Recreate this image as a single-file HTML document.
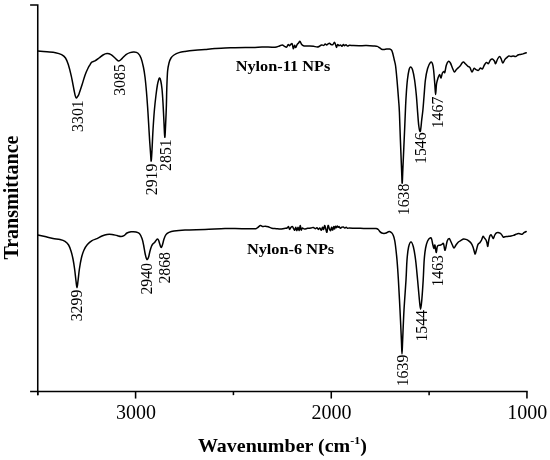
<!DOCTYPE html>
<html><head><meta charset="utf-8"><title>FTIR</title>
<style>
html,body{margin:0;padding:0;background:#fff;}
body{width:550px;height:460px;overflow:hidden;}
svg{display:block;}
text{font-family:"Liberation Serif","Times New Roman",serif;fill:#000;}
.tk{font-size:20px;}
.pk{font-size:15.8px;}
.ttl{font-size:20px;font-weight:bold;}
.nm{font-size:16.3px;font-weight:bold;}
.ax line,.ax path{stroke:#000;stroke-width:1.55;fill:none;}
.cv{stroke:#000;stroke-width:1.5;fill:none;stroke-linejoin:round;stroke-linecap:round;}
</style></head><body>
<svg width="550" height="460" viewBox="0 0 550 460">
<rect width="550" height="460" fill="#fff"/>
<g class="ax">
<path d="M30.1 4.9H37.75V395.2"/>
<path d="M30.1 391.55H527.7"/>
<line x1="37.75" y1="391.55" x2="37.75" y2="395.15"/><line x1="135.59" y1="391.55" x2="135.59" y2="398.55"/><line x1="233.43" y1="391.55" x2="233.43" y2="395.15"/><line x1="331.27" y1="391.55" x2="331.27" y2="398.55"/><line x1="429.11" y1="391.55" x2="429.11" y2="395.15"/><line x1="526.95" y1="391.55" x2="526.95" y2="398.55"/>
</g>
<path class="cv" d="M37.75 51.00C39.29 51.13 44.04 51.52 47.00 51.80C49.96 52.08 53.07 52.23 55.50 52.70C57.93 53.17 59.93 53.72 61.60 54.60C63.27 55.48 64.38 56.33 65.50 58.00C66.62 59.67 67.33 61.57 68.30 64.60C69.27 67.63 70.35 71.97 71.30 76.20C72.25 80.43 73.35 86.77 74.00 90.00C74.65 93.23 74.82 94.27 75.20 95.60C75.58 96.93 75.92 97.83 76.30 98.00C76.68 98.17 77.05 97.28 77.50 96.60C77.95 95.92 78.24 95.87 79.00 93.90C79.76 91.93 81.03 87.97 82.05 84.80C83.07 81.63 84.09 77.70 85.10 74.90C86.11 72.10 87.28 69.68 88.10 68.00C88.92 66.32 89.38 65.77 90.00 64.80C90.62 63.83 90.97 62.87 91.80 62.20C92.63 61.53 93.80 61.50 95.00 60.80C96.20 60.10 97.67 58.97 99.00 58.00C100.33 57.03 101.67 55.73 103.00 55.00C104.33 54.27 105.67 53.67 107.00 53.60C108.33 53.53 109.67 53.87 111.00 54.60C112.33 55.33 113.73 56.93 115.00 58.00C116.27 59.07 117.43 60.90 118.60 61.00C119.77 61.10 120.77 59.67 122.00 58.60C123.23 57.53 124.67 55.60 126.00 54.60C127.33 53.60 128.67 53.03 130.00 52.60C131.33 52.17 132.67 51.90 134.00 52.00C135.33 52.10 136.83 52.20 138.00 53.20C139.17 54.20 140.10 55.70 141.00 58.00C141.90 60.30 142.73 63.83 143.40 67.00C144.07 70.17 144.50 73.00 145.00 77.00C145.50 81.00 145.97 86.00 146.40 91.00C146.83 96.00 147.23 101.67 147.60 107.00C147.97 112.33 148.27 117.50 148.60 123.00C148.93 128.50 149.27 134.83 149.60 140.00C149.93 145.17 150.33 150.50 150.60 154.00C150.87 157.50 150.97 161.67 151.20 161.00C151.43 160.33 151.70 155.17 152.00 150.00C152.30 144.83 152.60 136.67 153.00 130.00C153.40 123.33 153.90 115.83 154.40 110.00C154.90 104.17 155.50 99.17 156.00 95.00C156.50 90.83 156.97 87.50 157.40 85.00C157.83 82.50 158.23 81.17 158.60 80.00C158.97 78.83 159.23 77.83 159.60 78.00C159.97 78.17 160.40 79.17 160.80 81.00C161.20 82.83 161.63 85.33 162.00 89.00C162.37 92.67 162.67 97.33 163.00 103.00C163.33 108.67 163.70 117.28 164.00 123.00C164.30 128.72 164.53 136.97 164.80 137.30C165.07 137.63 165.33 130.38 165.60 125.00C165.87 119.62 166.20 111.17 166.40 105.00C166.60 98.83 166.60 93.67 166.80 88.00C167.00 82.33 167.23 75.17 167.60 71.00C167.97 66.83 168.43 65.17 169.00 63.00C169.57 60.83 170.17 59.33 171.00 58.00C171.83 56.67 172.67 55.90 174.00 55.00C175.33 54.10 177.17 53.20 179.00 52.60C180.83 52.00 182.33 51.80 185.00 51.40C187.67 51.00 191.67 50.53 195.00 50.20C198.33 49.87 201.67 49.67 205.00 49.40C208.33 49.13 211.67 48.83 215.00 48.60C218.33 48.37 221.67 48.13 225.00 48.00C228.33 47.87 230.00 47.90 235.00 47.80C240.00 47.70 249.50 47.55 255.00 47.40C260.50 47.25 264.67 46.92 268.00 46.90C271.33 46.88 273.10 47.45 275.00 47.30C276.90 47.15 278.18 46.40 279.40 46.00C280.62 45.60 281.45 44.85 282.30 44.90C283.15 44.95 283.78 45.93 284.50 46.30C285.22 46.67 286.00 47.38 286.60 47.10C287.20 46.82 287.62 44.83 288.10 44.60C288.58 44.37 289.07 45.73 289.50 45.70C289.93 45.67 290.25 44.70 290.70 44.40C291.15 44.10 291.77 43.17 292.20 43.90C292.63 44.63 292.92 48.57 293.30 48.80C293.68 49.03 294.10 45.50 294.50 45.30C294.90 45.10 295.27 47.72 295.70 47.60C296.13 47.48 296.62 45.38 297.10 44.60C297.58 43.82 298.12 43.43 298.60 42.90C299.08 42.37 299.52 41.17 300.00 41.40C300.48 41.63 300.93 43.58 301.50 44.30C302.07 45.02 302.60 45.42 303.40 45.70C304.20 45.98 305.22 45.95 306.30 46.00C307.38 46.05 308.70 45.95 309.90 46.00C311.10 46.05 312.28 46.13 313.50 46.30C314.72 46.47 316.22 47.00 317.20 47.00C318.18 47.00 318.68 46.65 319.40 46.30C320.12 45.95 320.78 45.05 321.50 44.90C322.22 44.75 323.08 45.57 323.70 45.40C324.32 45.23 324.72 43.98 325.20 43.90C325.68 43.82 326.12 44.90 326.60 44.90C327.08 44.90 327.62 44.17 328.10 43.90C328.58 43.63 329.02 43.20 329.50 43.30C329.98 43.40 330.43 44.28 331.00 44.50C331.57 44.72 332.33 44.98 332.90 44.60C333.47 44.22 333.97 42.22 334.40 42.20C334.83 42.18 335.15 43.63 335.50 44.50C335.85 45.37 336.15 47.40 336.50 47.40C336.85 47.40 337.18 44.78 337.60 44.50C338.02 44.22 338.52 45.63 339.00 45.70C339.48 45.77 340.02 44.80 340.50 44.90C340.98 45.00 341.42 46.37 341.90 46.30C342.38 46.23 342.97 44.60 343.40 44.50C343.83 44.40 344.07 45.65 344.50 45.70C344.93 45.75 345.50 44.75 346.00 44.80C346.50 44.85 346.90 45.92 347.50 46.00C348.10 46.08 348.63 45.37 349.60 45.30C350.57 45.23 351.72 45.53 353.30 45.60C354.88 45.67 356.92 45.70 359.10 45.70C361.28 45.70 363.98 45.55 366.40 45.60C368.82 45.65 371.78 45.87 373.60 46.00C375.42 46.13 376.32 46.12 377.30 46.40C378.28 46.68 378.78 47.23 379.50 47.70C380.22 48.17 380.88 48.88 381.60 49.20C382.32 49.52 382.95 49.63 383.80 49.60C384.65 49.57 385.73 49.10 386.70 49.00C387.67 48.90 388.82 48.82 389.60 49.00C390.38 49.18 390.92 49.52 391.40 50.10C391.88 50.68 392.13 51.37 392.50 52.50C392.87 53.63 393.30 55.65 393.60 56.90C393.90 58.15 393.97 58.48 394.30 60.00C394.63 61.52 395.15 62.67 395.60 66.00C396.05 69.33 396.50 74.33 397.00 80.00C397.50 85.67 398.20 94.67 398.60 100.00C399.00 105.33 399.10 105.33 399.40 112.00C399.70 118.67 400.03 130.33 400.40 140.00C400.77 149.67 401.30 162.80 401.60 170.00C401.90 177.20 401.98 183.53 402.20 183.20C402.42 182.87 402.50 176.87 402.90 168.00C403.30 159.13 404.15 140.33 404.60 130.00C405.05 119.67 405.30 112.33 405.60 106.00C405.90 99.67 406.10 96.33 406.40 92.00C406.70 87.67 406.97 83.67 407.40 80.00C407.83 76.33 408.47 72.17 409.00 70.00C409.53 67.83 410.00 67.00 410.60 67.00C411.20 67.00 411.93 67.83 412.60 70.00C413.27 72.17 413.97 75.67 414.60 80.00C415.23 84.33 415.90 90.67 416.40 96.00C416.90 101.33 417.20 107.00 417.60 112.00C418.00 117.00 418.38 122.73 418.80 126.00C419.22 129.27 419.73 131.43 420.10 131.60C420.47 131.77 420.73 128.93 421.00 127.00C421.27 125.07 421.38 122.83 421.70 120.00C422.02 117.17 422.51 114.00 422.90 110.00C423.29 106.00 423.63 101.00 424.05 96.00C424.47 91.00 424.81 84.58 425.40 80.00C425.99 75.42 426.77 71.43 427.60 68.50C428.43 65.57 429.60 63.23 430.40 62.40C431.20 61.57 431.87 62.23 432.40 63.50C432.93 64.77 433.20 66.58 433.60 70.00C434.00 73.42 434.47 79.90 434.80 84.00C435.13 88.10 435.32 94.60 435.60 94.60C435.88 94.60 436.10 86.77 436.50 84.00C436.90 81.23 437.48 79.60 438.00 78.00C438.52 76.40 439.10 74.40 439.60 74.40C440.10 74.40 440.53 78.23 441.00 78.00C441.47 77.77 441.90 74.07 442.40 73.00C442.90 71.93 443.60 71.70 444.00 71.60C444.40 71.50 444.40 73.50 444.80 72.40C445.20 71.30 445.80 66.83 446.40 65.00C447.00 63.17 447.73 61.73 448.40 61.40C449.07 61.07 449.73 61.90 450.40 63.00C451.07 64.10 451.73 66.50 452.40 68.00C453.07 69.50 453.73 71.73 454.40 72.00C455.07 72.27 455.73 70.33 456.40 69.60C457.07 68.87 457.73 68.27 458.40 67.60C459.07 66.93 459.80 66.37 460.40 65.60C461.00 64.83 461.47 63.60 462.00 63.00C462.53 62.40 463.00 61.83 463.60 62.00C464.20 62.17 464.87 63.27 465.60 64.00C466.33 64.73 467.27 65.80 468.00 66.40C468.73 67.00 469.33 66.67 470.00 67.60C470.67 68.53 471.33 71.87 472.00 72.00C472.67 72.13 473.33 68.80 474.00 68.40C474.67 68.00 475.27 69.27 476.00 69.60C476.73 69.93 477.67 70.67 478.40 70.40C479.13 70.13 479.73 68.23 480.40 68.00C481.07 67.77 481.73 69.50 482.40 69.00C483.07 68.50 483.73 66.10 484.40 65.00C485.07 63.90 485.73 62.63 486.40 62.40C487.07 62.17 487.73 64.00 488.40 63.60C489.07 63.20 489.73 60.77 490.40 60.00C491.07 59.23 491.73 58.83 492.40 59.00C493.07 59.17 493.87 60.23 494.40 61.00C494.93 61.77 495.07 63.93 495.60 63.60C496.13 63.27 496.93 60.17 497.60 59.00C498.27 57.83 499.00 56.60 499.60 56.60C500.20 56.60 500.67 57.93 501.20 59.00C501.73 60.07 502.20 62.90 502.80 63.00C503.40 63.10 504.13 60.50 504.80 59.60C505.47 58.70 506.13 58.20 506.80 57.60C507.47 57.00 508.13 56.20 508.80 56.00C509.47 55.80 510.07 56.40 510.80 56.40C511.53 56.40 512.40 55.97 513.20 56.00C514.00 56.03 514.80 56.77 515.60 56.60C516.40 56.43 517.20 55.37 518.00 55.00C518.80 54.63 519.57 54.58 520.40 54.40C521.23 54.22 522.03 54.17 523.00 53.90C523.97 53.63 525.67 52.98 526.20 52.80"/>
<path class="cv" d="M37.75 235.00C38.96 235.27 42.46 236.03 45.00 236.60C47.54 237.17 50.50 237.90 53.00 238.40C55.50 238.90 58.00 239.10 60.00 239.60C62.00 240.10 63.57 240.50 65.00 241.40C66.43 242.30 67.60 243.40 68.60 245.00C69.60 246.60 70.27 248.67 71.00 251.00C71.73 253.33 72.40 256.00 73.00 259.00C73.60 262.00 74.10 265.33 74.60 269.00C75.10 272.67 75.60 277.90 76.00 281.00C76.40 284.10 76.67 287.60 77.00 287.60C77.33 287.60 77.60 284.10 78.00 281.00C78.40 277.90 78.83 272.83 79.40 269.00C79.97 265.17 80.63 261.17 81.40 258.00C82.17 254.83 83.00 252.23 84.00 250.00C85.00 247.77 86.07 246.17 87.40 244.60C88.73 243.03 90.40 241.60 92.00 240.60C93.60 239.60 95.33 239.37 97.00 238.60C98.67 237.83 100.33 236.70 102.00 236.00C103.67 235.30 105.33 234.67 107.00 234.40C108.67 234.13 110.33 234.20 112.00 234.40C113.67 234.60 115.50 235.27 117.00 235.60C118.50 235.93 119.83 236.40 121.00 236.40C122.17 236.40 123.00 236.17 124.00 235.60C125.00 235.03 125.83 233.63 127.00 233.00C128.17 232.37 129.50 231.98 131.00 231.80C132.50 231.62 134.60 231.60 136.00 231.90C137.40 232.20 138.40 232.48 139.40 233.60C140.40 234.72 141.30 236.70 142.00 238.60C142.70 240.50 143.10 242.60 143.60 245.00C144.10 247.40 144.53 250.73 145.00 253.00C145.47 255.27 146.00 257.53 146.40 258.60C146.80 259.67 147.03 259.67 147.40 259.40C147.77 259.13 148.17 258.40 148.60 257.00C149.03 255.60 149.50 252.83 150.00 251.00C150.50 249.17 151.10 247.20 151.60 246.00C152.10 244.80 152.50 244.40 153.00 243.80C153.50 243.20 154.07 243.00 154.60 242.40C155.13 241.80 155.72 240.75 156.20 240.20C156.68 239.65 157.10 239.10 157.50 239.10C157.90 239.10 158.23 239.42 158.60 240.20C158.97 240.98 159.30 242.60 159.70 243.80C160.10 245.00 160.55 247.20 161.00 247.40C161.45 247.60 161.90 246.40 162.40 245.00C162.90 243.60 163.40 240.73 164.00 239.00C164.60 237.27 165.17 235.70 166.00 234.60C166.83 233.50 167.67 233.00 169.00 232.40C170.33 231.80 171.33 231.40 174.00 231.00C176.67 230.60 179.83 230.27 185.00 230.00C190.17 229.73 198.33 229.63 205.00 229.40C211.67 229.17 220.00 228.73 225.00 228.60C230.00 228.47 230.83 228.58 235.00 228.60C239.17 228.62 246.53 228.68 250.00 228.70C253.47 228.72 254.47 228.93 255.80 228.70C257.13 228.47 257.22 227.82 258.00 227.30C258.78 226.78 259.70 225.73 260.50 225.60C261.30 225.47 262.00 226.40 262.80 226.50C263.60 226.60 264.40 226.15 265.30 226.20C266.20 226.25 267.12 226.47 268.20 226.80C269.28 227.13 270.47 227.88 271.80 228.20C273.13 228.52 274.75 228.55 276.20 228.70C277.65 228.85 279.17 229.15 280.50 229.10C281.83 229.05 283.10 228.58 284.20 228.40C285.30 228.22 286.38 228.30 287.10 228.00C287.82 227.70 288.08 226.37 288.50 226.60C288.92 226.83 289.18 229.28 289.60 229.40C290.02 229.52 290.52 227.77 291.00 227.30C291.48 226.83 292.07 226.37 292.50 226.60C292.93 226.83 293.22 228.12 293.60 228.70C293.98 229.28 294.43 230.33 294.80 230.10C295.17 229.87 295.47 227.18 295.80 227.30C296.13 227.42 296.43 230.80 296.80 230.80C297.17 230.80 297.60 227.35 298.00 227.30C298.40 227.25 298.83 230.80 299.20 230.50C299.57 230.20 299.87 225.57 300.20 225.50C300.53 225.43 300.83 229.68 301.20 230.10C301.57 230.52 301.85 228.17 302.40 228.00C302.95 227.83 303.65 229.05 304.50 229.10C305.35 229.15 306.40 228.48 307.50 228.30C308.60 228.12 310.13 228.15 311.10 228.00C312.07 227.85 312.62 227.28 313.30 227.40C313.98 227.52 314.60 228.65 315.20 228.70C315.80 228.75 316.37 227.58 316.90 227.70C317.43 227.82 317.92 229.35 318.40 229.40C318.88 229.45 319.32 227.85 319.80 228.00C320.28 228.15 320.85 230.42 321.30 230.30C321.75 230.18 322.12 227.43 322.50 227.30C322.88 227.17 323.19 229.80 323.55 229.50C323.91 229.20 324.29 225.63 324.65 225.50C325.01 225.37 325.32 227.57 325.70 228.70C326.07 229.83 326.51 232.83 326.90 232.30C327.29 231.77 327.68 226.18 328.05 225.50C328.43 224.82 328.74 227.32 329.15 228.20C329.56 229.08 330.09 230.95 330.50 230.80C330.91 230.65 331.23 227.42 331.60 227.30C331.97 227.18 332.35 230.22 332.70 230.10C333.05 229.98 333.40 226.77 333.70 226.60C334.00 226.43 334.22 229.13 334.50 229.10C334.78 229.07 335.10 226.63 335.40 226.40C335.70 226.17 336.00 227.78 336.30 227.70C336.60 227.62 336.88 225.97 337.20 225.90C337.52 225.83 337.87 227.18 338.20 227.30C338.53 227.42 338.83 226.43 339.20 226.60C339.57 226.77 339.97 228.18 340.40 228.30C340.83 228.42 341.32 227.53 341.80 227.30C342.28 227.07 342.82 226.78 343.30 226.90C343.78 227.02 344.22 227.93 344.70 228.00C345.18 228.07 345.72 227.25 346.20 227.30C346.68 227.35 347.12 228.18 347.60 228.30C348.08 228.42 347.63 228.00 349.10 228.00C350.57 228.00 353.98 228.23 356.40 228.30C358.82 228.37 361.18 228.35 363.60 228.40C366.02 228.45 368.83 228.58 370.90 228.60C372.97 228.62 374.78 228.35 376.00 228.50C377.22 228.65 377.55 228.98 378.20 229.50C378.85 230.02 379.30 231.02 379.90 231.60C380.50 232.18 381.12 232.70 381.80 233.00C382.48 233.30 383.27 233.40 384.00 233.40C384.73 233.40 385.47 233.27 386.20 233.00C386.93 232.73 387.75 232.02 388.40 231.80C389.05 231.58 389.50 231.48 390.10 231.70C390.70 231.92 391.43 232.38 392.00 233.10C392.57 233.82 393.08 234.92 393.50 236.00C393.92 237.08 394.18 238.10 394.50 239.60C394.82 241.10 394.98 241.60 395.40 245.00C395.82 248.40 396.50 254.17 397.00 260.00C397.50 265.83 397.90 271.67 398.40 280.00C398.90 288.33 399.50 300.00 400.00 310.00C400.50 320.00 401.07 332.67 401.40 340.00C401.73 347.33 401.79 354.00 402.00 354.00C402.21 354.00 402.32 347.33 402.65 340.00C402.98 332.67 403.44 320.00 404.00 310.00C404.56 300.00 405.50 288.33 406.00 280.00C406.50 271.67 406.57 265.50 407.00 260.00C407.43 254.50 407.93 250.00 408.60 247.00C409.27 244.00 410.20 242.00 411.00 242.00C411.80 242.00 412.63 244.00 413.40 247.00C414.17 250.00 414.90 254.50 415.60 260.00C416.30 265.50 416.97 273.33 417.60 280.00C418.23 286.67 418.90 295.13 419.40 300.00C419.90 304.87 420.20 309.20 420.60 309.20C421.00 309.20 421.37 304.87 421.80 300.00C422.23 295.13 422.80 286.67 423.20 280.00C423.60 273.33 423.80 265.33 424.20 260.00C424.60 254.67 425.03 251.17 425.60 248.00C426.17 244.83 426.83 242.70 427.60 241.00C428.37 239.30 429.53 238.13 430.20 237.80C430.87 237.47 431.18 237.97 431.60 239.00C432.02 240.03 432.33 242.43 432.70 244.00C433.07 245.57 433.43 248.23 433.80 248.40C434.17 248.57 434.50 244.33 434.90 245.00C435.30 245.67 435.78 252.18 436.20 252.40C436.62 252.62 436.83 247.50 437.40 246.30C437.97 245.10 438.90 245.48 439.60 245.20C440.30 244.92 440.95 244.87 441.60 244.60C442.25 244.33 442.92 242.65 443.50 243.60C444.08 244.55 444.48 250.73 445.10 250.30C445.72 249.87 446.52 242.95 447.20 241.00C447.88 239.05 448.63 238.60 449.20 238.60C449.77 238.60 450.07 239.93 450.60 241.00C451.13 242.07 451.83 243.83 452.40 245.00C452.97 246.17 453.40 248.00 454.00 248.00C454.60 248.00 455.27 246.00 456.00 245.00C456.73 244.00 457.57 242.77 458.40 242.00C459.23 241.23 460.13 240.90 461.00 240.40C461.87 239.90 462.77 239.17 463.60 239.00C464.43 238.83 465.20 239.13 466.00 239.40C466.80 239.67 467.57 240.00 468.40 240.60C469.23 241.20 470.23 241.93 471.00 243.00C471.77 244.07 472.43 245.50 473.00 247.00C473.57 248.50 474.03 250.83 474.40 252.00C474.77 253.17 474.87 254.33 475.20 254.00C475.53 253.67 475.93 251.60 476.40 250.00C476.87 248.40 477.40 245.67 478.00 244.40C478.60 243.13 479.40 243.13 480.00 242.40C480.60 241.67 481.10 241.00 481.60 240.00C482.10 239.00 482.53 236.73 483.00 236.40C483.47 236.07 483.90 237.40 484.40 238.00C484.90 238.60 485.57 239.17 486.00 240.00C486.43 240.83 486.70 241.93 487.00 243.00C487.30 244.07 487.50 246.90 487.80 246.40C488.10 245.90 488.43 241.80 488.80 240.00C489.17 238.20 489.60 236.43 490.00 235.60C490.40 234.77 490.80 234.77 491.20 235.00C491.60 235.23 492.03 236.43 492.40 237.00C492.77 237.57 493.00 238.73 493.40 238.40C493.80 238.07 494.30 235.92 494.80 235.00C495.30 234.08 495.87 233.33 496.40 232.90C496.93 232.47 497.40 232.35 498.00 232.40C498.60 232.45 499.40 232.83 500.00 233.20C500.60 233.57 501.07 233.95 501.60 234.60C502.13 235.25 502.63 236.75 503.20 237.10C503.77 237.45 504.20 236.82 505.00 236.70C505.80 236.58 507.00 236.52 508.00 236.40C509.00 236.28 510.07 236.17 511.00 236.00C511.93 235.83 512.77 235.68 513.60 235.40C514.43 235.12 515.20 234.62 516.00 234.30C516.80 233.98 517.67 233.57 518.40 233.50C519.13 233.43 519.80 233.77 520.40 233.90C521.00 234.03 521.40 234.50 522.00 234.30C522.60 234.10 523.30 233.17 524.00 232.70C524.70 232.23 525.83 231.70 526.20 231.50"/>
<text x="135.89" y="419.4" text-anchor="middle" class="tk">3000</text><text x="331.57" y="419.4" text-anchor="middle" class="tk">2000</text><text x="527.25" y="419.4" text-anchor="middle" class="tk">1000</text>
<text class="pk" text-anchor="end" transform="translate(83.10 100.30) rotate(-90) scale(1 1.05)">3301</text><text class="pk" text-anchor="end" transform="translate(124.80 64.20) rotate(-90) scale(1 1.05)">3085</text><text class="pk" text-anchor="end" transform="translate(156.80 163.60) rotate(-90) scale(1 1.05)">2919</text><text class="pk" text-anchor="end" transform="translate(171.30 139.30) rotate(-90) scale(1 1.05)">2851</text><text class="pk" text-anchor="end" transform="translate(409.00 183.60) rotate(-90) scale(1 1.05)">1638</text><text class="pk" text-anchor="end" transform="translate(426.40 132.40) rotate(-90) scale(1 1.05)">1546</text><text class="pk" text-anchor="end" transform="translate(442.90 96.70) rotate(-90) scale(1 1.05)">1467</text><text class="pk" text-anchor="end" transform="translate(81.70 289.70) rotate(-90) scale(1 1.05)">3299</text><text class="pk" text-anchor="end" transform="translate(152.30 263.00) rotate(-90) scale(1 1.05)">2940</text><text class="pk" text-anchor="end" transform="translate(170.40 252.00) rotate(-90) scale(1 1.05)">2868</text><text class="pk" text-anchor="end" transform="translate(407.90 354.70) rotate(-90) scale(1 1.05)">1639</text><text class="pk" text-anchor="end" transform="translate(427.40 310.00) rotate(-90) scale(1 1.05)">1544</text><text class="pk" text-anchor="end" transform="translate(442.60 255.00) rotate(-90) scale(1 1.05)">1463</text>
<text class="nm" transform="translate(235.7 71.4) scale(1 0.94)">Nylon-11 NPs</text>
<text class="nm" transform="translate(246.9 253.5) scale(1 0.94)">Nylon-6 NPs</text>
<text class="ttl" transform="translate(197.9 451.8) scale(1 0.92)">Wavenumber (cm<tspan dy="-8.3" font-size="12">-1</tspan><tspan dy="8.3">)</tspan></text>
<text class="ttl" text-anchor="middle" transform="translate(17.6 197.6) rotate(-90) scale(1 1.03)">Transmittance</text>
</svg>
</body></html>
